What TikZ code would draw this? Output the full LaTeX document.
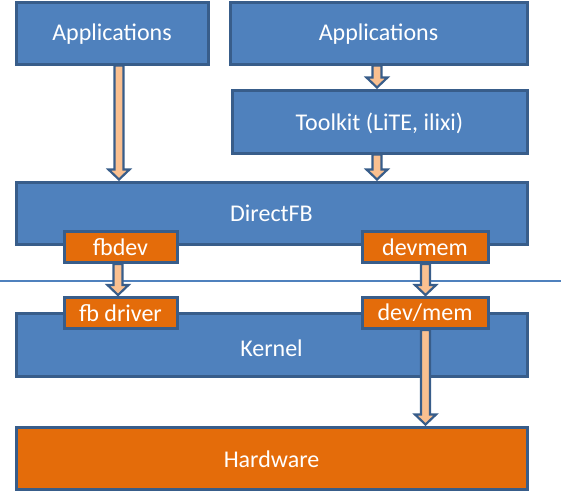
\documentclass[tikz,border=0pt]{standalone}
\usepackage{fontspec}
\setmainfont{Carlito}
\usetikzlibrary{calc}
\definecolor{bfill}{HTML}{4F81BD}
\definecolor{bdr}{HTML}{385D8A}
\definecolor{ofill}{HTML}{E46C0A}
\definecolor{afill}{HTML}{FAC090}
\tikzset{
  layer/.style={draw=bdr, line width=3pt, fill=bfill, text=white, inner sep=0pt,
    font=\fontsize{24}{28}\selectfont},
  olayer/.style={layer, fill=ofill},
  lbl/.style={text=white, font=\fontsize{24}{28}\selectfont, inner sep=0pt},
  barrow/.style={draw=bdr, fill=afill, line width=2.2pt, line join=miter}
}
\newcommand\blockarrow[3]{%
  \path let \p1=(#2), \p2=(#3) in
    [barrow] (#1pt-4.5pt,\y1) -- (#1pt+4.5pt,\y1) -- (#1pt+4.5pt,\y2+11pt)
      -- (#1pt+10.5pt,\y2+11pt) -- (#1pt,\y2+1pt) -- (#1pt-10.5pt,\y2+11pt)
      -- (#1pt-4.5pt,\y2+11pt) -- cycle;}
\begin{document}
\begin{tikzpicture}[x=1pt,y=-1pt]
\useasboundingbox (0,0) rectangle (561,491);
\node[layer, minimum width=192pt, minimum height=62pt] (apps1) at (112,33) {};
\node[lbl] (apps1l) at (112,34.5) {Applications};
\node[layer, minimum width=297pt, minimum height=62pt] (apps2) at (378.5,33) {};
\node[lbl] (apps2l) at (378.5,34.5) {Applications};
\node[layer, minimum width=295pt, minimum height=63pt] (tk) at (379.5,121.5) {};
\node[lbl] (tkl) at (379.5,123) {Toolkit (LiTE, ilixi)};
\node[layer, minimum width=511pt, minimum height=62pt] (dfb) at (271.5,213) {};
\node[lbl] (dfbl) at (271.5,213) {DirectFB};
\node[olayer, minimum width=113pt, minimum height=31pt] (fbdev) at (120.5,247) {fbdev};
\node[olayer, minimum width=126pt, minimum height=31pt] (devmem) at (425,247) {devmem};
\coordinate (l1) at (0,281);
\coordinate (l2) at (561,281);
\draw[bfill, line width=2pt] (l1) -- (l2);
\node[layer, minimum width=511pt, minimum height=63pt] (kern) at (271.5,344.5) {};
\node[lbl] (kernl) at (271.5,348) {Kernel};
\node[olayer, minimum width=113pt, minimum height=31pt] (fbdrv) at (120.5,313) {fb driver};
\node[olayer, minimum width=126pt, minimum height=31pt] (devmem2) at (425,313) {dev/mem};
\node[olayer, minimum width=511pt, minimum height=62pt] (hw) at (271.5,458) {};
\node[lbl] (hwl) at (271.5,459) {Hardware};
\blockarrow{119}{apps1.south}{dfb.north}
\blockarrow{377}{apps2.south}{tk.north}
\blockarrow{377}{tk.south}{dfb.north}
\blockarrow{118}{fbdev.south}{fbdrv.north}
\blockarrow{425.5}{devmem.south}{devmem2.north}
\blockarrow{425.5}{devmem2.south}{hw.north}
\end{tikzpicture}
\end{document}
